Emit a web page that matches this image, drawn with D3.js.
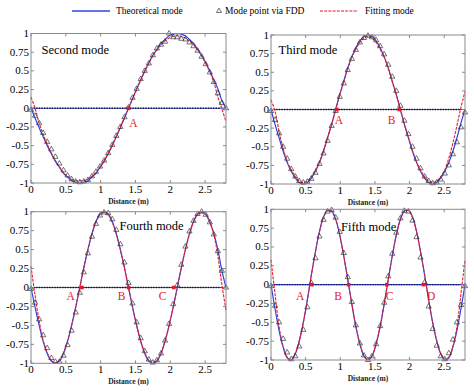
<!DOCTYPE html>
<html>
<head>
<meta charset="utf-8">
<script src="https://cdn.jsdelivr.net/npm/d3@7"></script>
<style>
  body { margin: 0; background: #fff; }
  svg text { font-family: "Liberation Serif", "Times New Roman", serif; }
</style>
</head>
<body>
<div id="chart"></div>
<script>
// distance along the beam (m)
const distance = [0, 0.058, 0.117, 0.175, 0.233, 0.292, 0.35, 0.408, 0.467, 0.525, 0.583, 0.642, 0.7,
  0.758, 0.817, 0.875, 0.933, 0.992, 1.05, 1.108, 1.167, 1.225, 1.283, 1.342, 1.4,
  1.458, 1.517, 1.575, 1.633, 1.692, 1.75, 1.808, 1.867, 1.925, 1.983, 2.042, 2.1,
  2.158, 2.217, 2.275, 2.333, 2.392, 2.45, 2.508, 2.567, 2.625, 2.683, 2.742, 2.8];

// second mode
const theory2 = [0, -0.13, -0.26, -0.38, -0.5, -0.61, -0.71, -0.79, -0.87, -0.92, -0.97, -0.99, -1,
  -0.99, -0.97, -0.92, -0.87, -0.79, -0.71, -0.61, -0.5, -0.38, -0.26, -0.13, 0,
  0.13, 0.26, 0.38, 0.5, 0.61, 0.71, 0.79, 0.87, 0.92, 0.97, 0.99, 1,
  0.99, 0.97, 0.92, 0.87, 0.79, 0.71, 0.61, 0.5, 0.38, 0.26, 0.1, 0];
const fdd2 = [-0.02, -0.1, -0.2, -0.33, -0.45, -0.55, -0.65, -0.74, -0.83, -0.9, -0.95, -0.98, -0.99,
  -0.98, -0.96, -0.91, -0.85, -0.78, -0.7, -0.6, -0.49, -0.37, -0.25, -0.12, 0.01,
  0.14, 0.26, 0.39, 0.5, 0.6, 0.71, 0.8, 0.85, 0.89, 1, 0.95, 0.95,
  0.93, 0.92, 0.88, 0.83, 0.77, 0.69, 0.59, 0.48, 0.35, 0.2, 0.07, 0];
const fit2 = [0.15, 0, -0.2, -0.35, -0.48, -0.6, -0.7, -0.78, -0.86, -0.91, -0.95, -0.97, -0.97,
  -0.97, -0.95, -0.91, -0.86, -0.78, -0.7, -0.6, -0.49, -0.37, -0.25, -0.12, 0,
  0.12, 0.25, 0.37, 0.49, 0.6, 0.7, 0.78, 0.85, 0.9, 0.94, 0.96, 0.97,
  0.96, 0.94, 0.9, 0.85, 0.78, 0.7, 0.6, 0.49, 0.35, 0.15, -0.01, -0.18];

// third mode
const theory3 = [0, -0.2, -0.38, -0.56, -0.71, -0.83, -0.92, -0.98, -1, -0.98, -0.92, -0.83, -0.71,
  -0.56, -0.38, -0.2, 0, 0.2, 0.38, 0.56, 0.71, 0.83, 0.92, 0.98, 1,
  0.98, 0.92, 0.83, 0.71, 0.56, 0.38, 0.2, 0, -0.2, -0.38, -0.56, -0.71,
  -0.83, -0.92, -0.98, -1, -0.98, -0.92, -0.83, -0.71, -0.56, -0.38, -0.18, 0];
const fdd3 = [-0.02, -0.14, -0.32, -0.5, -0.66, -0.8, -0.9, -0.96, -0.98, -0.97, -0.93, -0.85, -0.73,
  -0.59, -0.42, -0.22, -0.02, 0.17, 0.35, 0.53, 0.68, 0.8, 0.9, 0.96, 0.99,
  0.97, 0.93, 0.85, 0.74, 0.6, 0.44, 0.25, 0.05, -0.15, -0.33, -0.5, -0.66,
  -0.79, -0.9, -0.96, -0.99, -0.98, -0.94, -0.86, -0.75, -0.6, -0.44, -0.24, -0.04];
const fit3 = [0.13, -0.02, -0.3, -0.52, -0.7, -0.81, -0.9, -0.96, -0.98, -0.96, -0.9, -0.81, -0.7,
  -0.55, -0.37, -0.2, 0, 0.2, 0.37, 0.55, 0.7, 0.81, 0.9, 0.96, 0.98,
  0.96, 0.9, 0.81, 0.7, 0.55, 0.37, 0.2, 0, -0.2, -0.37, -0.55, -0.7,
  -0.81, -0.9, -0.96, -0.98, -0.96, -0.9, -0.81, -0.65, -0.45, -0.22, 0.03, 0.24];

// fourth mode
const theory4 = [0, -0.26, -0.5, -0.71, -0.87, -0.97, -1, -0.97, -0.87, -0.71, -0.5, -0.26, 0,
  0.26, 0.5, 0.71, 0.87, 0.97, 1, 0.97, 0.87, 0.71, 0.5, 0.26, 0,
  -0.26, -0.5, -0.71, -0.87, -0.97, -1, -0.97, -0.87, -0.71, -0.5, -0.26, 0,
  0.26, 0.5, 0.71, 0.87, 0.97, 1, 0.97, 0.87, 0.71, 0.5, 0.22, 0];
const fdd4 = [-0.02, -0.2, -0.42, -0.63, -0.8, -0.93, -0.98, -0.98, -0.9, -0.76, -0.57, -0.33, -0.07,
  0.2, 0.45, 0.67, 0.84, 0.95, 0.99, 0.98, 0.9, 0.76, 0.57, 0.33, 0.06,
  -0.21, -0.46, -0.67, -0.84, -0.95, -0.99, -0.96, -0.87, -0.7, -0.48, -0.22, 0.03,
  0.3, 0.54, 0.74, 0.88, 0.97, 1, 0.96, 0.86, 0.7, 0.48, 0.22, 0];
const fit4 = [0.28, -0.1, -0.44, -0.7, -0.86, -0.96, -0.99, -0.96, -0.86, -0.7, -0.5, -0.26, 0,
  0.26, 0.5, 0.7, 0.86, 0.96, 0.99, 0.96, 0.86, 0.7, 0.5, 0.26, 0,
  -0.26, -0.5, -0.7, -0.86, -0.96, -0.99, -0.96, -0.86, -0.7, -0.5, -0.26, 0,
  0.26, 0.5, 0.7, 0.86, 0.96, 0.99, 0.96, 0.86, 0.7, 0.42, 0.03, -0.3];

// fifth mode
const theory5 = [0, -0.32, -0.61, -0.83, -0.97, -1, -0.92, -0.75, -0.5, -0.2, 0.13, 0.44, 0.71,
  0.9, 0.99, 0.98, 0.87, 0.66, 0.38, 0.07, -0.26, -0.56, -0.79, -0.95, -1,
  -0.95, -0.79, -0.56, -0.26, 0.07, 0.38, 0.66, 0.87, 0.98, 0.99, 0.9, 0.71,
  0.44, 0.13, -0.2, -0.5, -0.75, -0.92, -1, -0.97, -0.83, -0.61, -0.32, 0];
const fdd5 = [-0.02, -0.28, -0.5, -0.72, -0.9, -0.99, -0.95, -0.82, -0.6, -0.3, 0.02, 0.35, 0.64,
  0.86, 0.97, 0.99, 0.89, 0.7, 0.42, 0.1, -0.23, -0.54, -0.78, -0.94, -1,
  -0.95, -0.79, -0.55, -0.24, 0.11, 0.41, 0.69, 0.88, 0.98, 0.97, 0.85, 0.63,
  0.36, 0.03, -0.29, -0.59, -0.81, -0.95, -0.99, -0.91, -0.73, -0.5, -0.27, -0.02];
const fit5 = [0.33, -0.12, -0.56, -0.82, -0.96, -0.99, -0.91, -0.74, -0.5, -0.2, 0.13, 0.44, 0.7,
  0.89, 0.98, 0.97, 0.86, 0.65, 0.38, 0.07, -0.26, -0.55, -0.78, -0.94, -0.99,
  -0.94, -0.78, -0.55, -0.26, 0.07, 0.38, 0.65, 0.86, 0.97, 0.98, 0.89, 0.7,
  0.44, 0.13, -0.2, -0.5, -0.74, -0.91, -0.99, -0.96, -0.82, -0.56, -0.12, 0.33];

// nodal points and their letters
const nodes2 = [1.4], nodeNames2 = ["A"], nameX2 = [1.47];
const nodes3 = [0.95, 1.85], nodeNames3 = ["A", "B"], nameX3 = [0.98, 1.74];
const nodes4 = [0.73, 1.4, 2.05], nodeNames4 = ["A", "B", "C"], nameX4 = [0.57, 1.3, 1.89];
const nodes5 = [0.59, 1.12, 1.67, 2.2], nodeNames5 = ["A", "B", "C", "D"], nameX5 = [0.42, 0.97, 1.71, 2.31];
const nameY = [-0.25, -0.19, -0.17, -0.2];

const titles = ["Second mode", "Third mode", "Fourth mode", "Fifth mode"];
const titlePos = [[0.15, 0.72], [0.11, 0.75], [1.27, 0.76], [1.01, 0.71]];
const xTicks = [0, 0.5, 1, 1.5, 2, 2.5];
const yTicks = [1, 0.75, 0.5, 0.25, 0, -0.25, -0.5, -0.75, -1];
const legendNames = ["Theoretical mode", "Mode point via FDD", "Fitting mode"];

const BLUE = "#3343e0", RED = "#e8192c", AXIS = "#8a8a8a";

const panels = [
  { theory: theory2, fdd: fdd2, fit: fit2, nodes: nodes2, names: nodeNames2, nameX: nameX2, box: [31, 226, 33.5, 183] },
  { theory: theory3, fdd: fdd3, fit: fit3, nodes: nodes3, names: nodeNames3, nameX: nameX3, box: [271, 465, 35, 184] },
  { theory: theory4, fdd: fdd4, fit: fit4, nodes: nodes4, names: nodeNames4, nameX: nameX4, box: [31, 226, 211.7, 363.3] },
  { theory: theory5, fdd: fdd5, fit: fit5, nodes: nodes5, names: nodeNames5, nameX: nameX5, box: [271, 465, 209.3, 360] }
];

const svg = d3.select("#chart").append("svg")
  .attr("width", 474)
  .attr("height", 392)
  .attr("font-family", "'Liberation Serif', serif")
  .style("background", "#fff");

panels.forEach((p, i) => {
  const [left, right, top, bottom] = p.box;
  const x = d3.scaleLinear().domain([0, 2.8]).range([left, right]);
  const y = d3.scaleLinear().domain([-1, 1]).range([bottom, top]);
  const g = svg.append("g");

  // zero line: blue with dark dots
  g.append("line")
    .attr("x1", x(0)).attr("x2", x(2.8)).attr("y1", y(0)).attr("y2", y(0))
    .attr("stroke", BLUE).attr("stroke-width", 1.2);
  g.append("line")
    .attr("x1", x(0)).attr("x2", x(2.72)).attr("y1", y(0)).attr("y2", y(0))
    .attr("stroke", "#15153f").attr("stroke-width", 1.4).attr("stroke-dasharray", "1.3,1.3");

  const line = d3.line().x((d, k) => x(distance[k])).y(d => y(d)).curve(d3.curveCatmullRom);

  g.append("path").datum(p.theory)
    .attr("d", line).attr("fill", "none")
    .attr("stroke", BLUE).attr("stroke-width", 1.2);

  g.append("path").datum(p.fit)
    .attr("d", line).attr("fill", "none")
    .attr("stroke", RED).attr("stroke-width", 1.1).attr("stroke-dasharray", "3,1.2");

  const tri = d3.symbol().type(d3.symbolTriangle).size(12);
  g.selectAll(".fdd").data(p.fdd).enter().append("path")
    .attr("class", "fdd")
    .attr("d", tri)
    .attr("transform", (d, k) => `translate(${x(distance[k])},${y(d)})`)
    .attr("fill", "none").attr("stroke", "#3a3a3a").attr("stroke-width", 0.7);

  g.selectAll(".node").data(p.nodes).enter().append("rect")
    .attr("x", d => x(d) - 1.8).attr("y", y(0) - 1.8)
    .attr("width", 3.6).attr("height", 3.6)
    .attr("fill", RED);

  g.selectAll(".name").data(p.names).enter().append("text")
    .attr("x", (d, k) => x(p.nameX[k]))
    .attr("y", y(nameY[i]))
    .attr("text-anchor", "middle")
    .attr("font-size", 11.5)
    .attr("fill", RED)
    .text(d => d);

  // frame
  g.append("rect")
    .attr("x", left).attr("y", top)
    .attr("width", right - left).attr("height", bottom - top)
    .attr("fill", "none").attr("stroke", AXIS).attr("stroke-width", 1);

  // inward ticks
  xTicks.forEach(t => {
    g.append("line").attr("x1", x(t)).attr("x2", x(t)).attr("y1", bottom).attr("y2", bottom - 3).attr("stroke", AXIS);
    g.append("line").attr("x1", x(t)).attr("x2", x(t)).attr("y1", top).attr("y2", top + 3).attr("stroke", AXIS);
  });
  yTicks.forEach(t => {
    g.append("line").attr("x1", left).attr("x2", left + 3).attr("y1", y(t)).attr("y2", y(t)).attr("stroke", AXIS);
    g.append("line").attr("x1", right).attr("x2", right - 3).attr("y1", y(t)).attr("y2", y(t)).attr("stroke", AXIS);
  });

  g.selectAll(".xt").data(xTicks).enter().append("text")
    .attr("x", d => x(d)).attr("y", bottom + 10)
    .attr("text-anchor", "middle").attr("font-size", 11)
    .text(d => d);
  g.selectAll(".yt").data(yTicks).enter().append("text")
    .attr("x", left - 2).attr("y", d => y(d) + 3.5)
    .attr("text-anchor", "end").attr("font-size", 11)
    .text(d => d);

  g.append("text")
    .attr("x", (left + right) / 2).attr("y", bottom + 20.5)
    .attr("text-anchor", "middle").attr("font-size", 7.5).attr("font-weight", "bold")
    .attr("fill", "#222")
    .text("Distance (m)");

  g.append("text")
    .attr("x", x(titlePos[i][0])).attr("y", y(titlePos[i][1]))
    .attr("font-size", 12.5)
    .text(titles[i]);
});

// legend
const lg = svg.append("g");
lg.append("line").attr("x1", 72).attr("x2", 110).attr("y1", 11).attr("y2", 11)
  .attr("stroke", BLUE).attr("stroke-width", 1.3);
lg.append("text").attr("x", 116).attr("y", 14).attr("font-size", 9.5).text(legendNames[0]);
lg.append("path").attr("d", d3.symbol().type(d3.symbolTriangle).size(11))
  .attr("transform", "translate(219,11)")
  .attr("fill", "none").attr("stroke", "#333").attr("stroke-width", 0.7);
lg.append("text").attr("x", 225).attr("y", 14).attr("font-size", 9.5).text(legendNames[1]);
lg.append("line").attr("x1", 320).attr("x2", 358).attr("y1", 11).attr("y2", 11)
  .attr("stroke", RED).attr("stroke-width", 1.1).attr("stroke-dasharray", "3,1.2");
lg.append("text").attr("x", 365).attr("y", 14).attr("font-size", 9.5).text(legendNames[2]);
</script>
</body>
</html>
